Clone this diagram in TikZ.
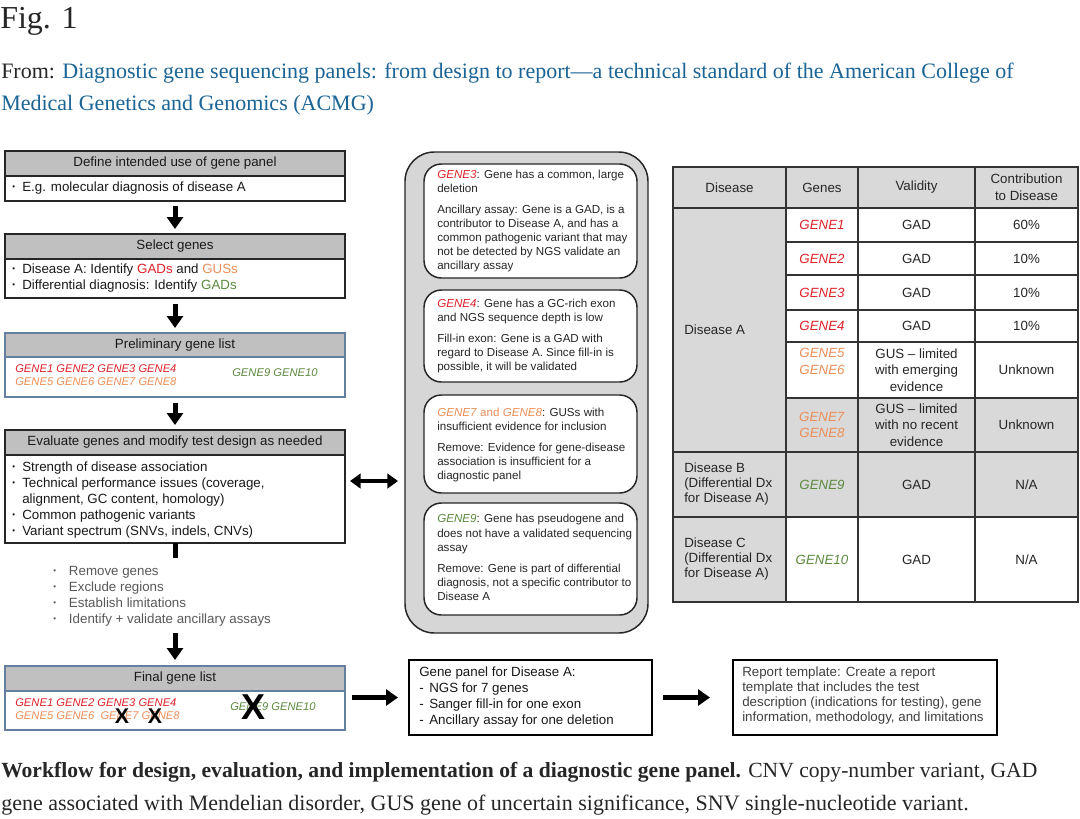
\documentclass[tikz,border=0pt]{standalone}
\usepackage{fontspec}
\setmainfont{Liberation Sans}
\newfontfamily\seriffont{Liberation Serif}
\usetikzlibrary{arrows.meta}
\definecolor{gred}{RGB}{222,35,42}
\definecolor{gorange}{RGB}{236,142,88}
\definecolor{ggreen}{RGB}{92,138,62}
\definecolor{steel}{RGB}{100,128,158}
\definecolor{linkblue}{RGB}{26,100,150}
\definecolor{hdrgray}{RGB}{192,192,192}
\definecolor{tgray}{RGB}{217,217,217}
\definecolor{pgray}{RGB}{214,214,214}
\newcommand\pxu{0.75pt}
\newcommand\GeneR[1]{\textcolor{gred}{\textit{#1}}}
\newcommand\GeneO[1]{\textcolor{gorange}{\textit{#1}}}
\newcommand\GeneG[1]{\textcolor{ggreen}{\textit{#1}}}
\newcommand\bul[1][7.5pt]{\makebox[#1][l]{\raisebox{1.6pt}{\fontsize{6}{6}\selectfont •}}}
\newcommand\dashi{\makebox[7.5pt][l]{-}}
\newcommand\tcell[7]{\node[cell, fill=#6, minimum width=#4*\pxu, minimum height=#5*\pxu] (#1) at (#2,#3) {#7};}
\begin{document}
\begin{tikzpicture}[x=\pxu, y=-\pxu,
  base/.style={anchor=north west, inner sep=0pt, outer sep=0pt},
  hdr/.style={base, fill=hdrgray, draw=black!85, line width=0.8pt, minimum width=340*\pxu, minimum height=25*\pxu, font=\fontsize{10}{12}\selectfont, text=black!90},
  bodyb/.style={base, fill=white, draw=black!85, line width=0.8pt, minimum width=340*\pxu},
  bluebd/.style={draw=steel, line width=1.1pt},
  txt/.style={anchor=west, inner sep=0pt, align=left, font=\fontsize{10}{12}\selectfont, text=black!90},
  gtxt/.style={anchor=west, inner sep=0pt, align=left, font=\fontsize{8.4}{9.6}\selectfont},
  mtxt/.style={anchor=west, inner sep=0pt, align=left, font=\fontsize{8.7}{10.6}\selectfont, text=black!85},
  bigarrow/.style={line width=3.75pt, -{Triangle[width=12pt,length=9pt]}},
  panel/.style={base, fill=pgray, draw=black!85, line width=1.1pt, rounded corners=22pt},
  ibox/.style={base, fill=white, draw=black!85, line width=1.1pt, rounded corners=13pt, minimum width=213*\pxu},
  cell/.style={base, draw=black!80, line width=1pt, align=center, font=\fontsize{10}{12.5}\selectfont, text=black!85},
  tbox/.style={base, draw=black, line width=2.2pt},
  xmark/.style={inner sep=0pt, text=black},
  captxt/.style={anchor=base west, inner sep=0pt, font=\seriffont\fontsize{16.5}{18}\selectfont, text=black!85},
]
\fill[white] (0,0) rectangle (1080,818);
\useasboundingbox (0,0) rectangle (1080,818);

% ---------- title ----------
\node[anchor=base west, inner sep=0pt, font=\seriffont\fontsize{24}{24}\selectfont, text=black!85] (fig) at (0,28) {Fig. 1};
\node[captxt] (from1) at (1,78) {From: \textcolor{linkblue}{Diagnostic gene sequencing panels: from design to report—a technical standard of the American College of}};
\node[captxt] (from2) at (1,110) {\textcolor{linkblue}{Medical Genetics and Genomics (ACMG)}};

% ---------- left column ----------
\node[hdr] (d1h) at (5,151) {Define intended use of gene panel};
\node[bodyb, minimum height=25*\pxu] (d1b) at (5,176) {};
\node[txt] (d1t) at (12,188) {\bul E.g. molecular diagnosis of disease A};

\node[hdr] (d2h) at (5,234) {Select genes};
\node[bodyb, minimum height=39*\pxu] (d2b) at (5,259) {};
\node[txt] (d2t) at (12,278) {\bul Disease A: Identify \textcolor{gred}{GADs} and \textcolor{gorange}{GUSs}\\\bul Differential diagnosis: Identify \textcolor{ggreen}{GADs}};

\node[hdr, bluebd, minimum height=24*\pxu] (d3h) at (5,333) {Preliminary gene list};
\node[bodyb, bluebd, minimum height=40*\pxu] (d3b) at (5,357) {};
\node[gtxt] (d3t) at (15,375.5) {\GeneR{GENE1 GENE2 GENE3 GENE4}\\\GeneO{GENE5 GENE6 GENE7 GENE8}};
\node[gtxt] (d3g) at (232,373) {\GeneG{GENE9 GENE10}};

\node[hdr] (d4h) at (5,430) {Evaluate genes and modify test design as needed};
\node[bodyb, minimum height=88*\pxu] (d4b) at (5,455) {};
\node[txt] (d4t) at (12,500.5) {\bul Strength of disease association\\
\bul Technical performance issues (coverage,\\
\hspace*{7.5pt}alignment, GC content, homology)\\
\bul Common pathogenic variants\\
\bul Variant spectrum (SNVs, indels, CNVs)};

\coordinate (barend) at (175,558);
\draw[line width=3.75pt] (d4b.south) -- (barend);
\node[txt, text=black!65] (gl) at (53,596) {\bul[9pt] Remove genes\\\bul[9pt] Exclude regions\\\bul[9pt] Establish limitations\\\bul[9pt] Identify + validate ancillary assays};
\coordinate (a4s) at (175,633);

\node[hdr, bluebd, minimum height=25*\pxu] (d5h) at (5,666) {Final gene list};
\node[bodyb, bluebd, minimum height=39*\pxu] (d5b) at (5,691) {};
\node[gtxt] (d5t) at (15,709.5) {\GeneR{GENE1 GENE2 GENE3 GENE4}\\\GeneO{GENE5 GENE6\ \ GENE7 GENE8}};
\node[gtxt] (d5g) at (230,707) {\GeneG{GENE9 GENE10}};
\node[xmark, font=\bfseries\fontsize{16}{16}\selectfont] (x7) at (122,716) {X};
\node[xmark, font=\bfseries\fontsize{16}{16}\selectfont] (x8) at (155,716) {X};
\node[xmark, font=\bfseries\fontsize{27}{27}\selectfont] (x9) at (254,707) {X};

\draw[bigarrow, shorten <=3.75pt, shorten >=3.75pt] (d1b.south) -- (d2h.north);
\draw[bigarrow, shorten <=4.5pt, shorten >=3.75pt] (d2b.south) -- (d3h.north);
\draw[bigarrow, shorten <=4.5pt, shorten >=3.75pt] (d3b.south) -- (d4h.north);
\draw[bigarrow, shorten >=4.5pt] (a4s) -- (d5h.north);

% ---------- middle panel ----------
\node[panel, minimum width=243*\pxu, minimum height=481*\pxu] (mid) at (405,152) {};
\node[ibox, minimum height=114*\pxu] (ma) at (424,164) {};
\node[mtxt] (mat) at (437,221) {\GeneR{GENE3}: Gene has a common, large\\deletion\\[5pt]Ancillary assay: Gene is a GAD, is a\\contributor to Disease A, and has a\\common pathogenic variant that may\\not be detected by NGS validate an\\ancillary assay};
\node[ibox, minimum height=92*\pxu] (mb) at (424,290) {};
\node[mtxt] (mbt) at (437,336) {\GeneR{GENE4}: Gene has a GC-rich exon\\and NGS sequence depth is low\\[5pt]Fill-in exon: Gene is a GAD with\\regard to Disease A. Since fill-in is\\possible, it will be validated};
\node[ibox, minimum height=98*\pxu] (mc) at (424,395) {};
\node[mtxt] (mct) at (437,445) {\GeneO{GENE7} \textcolor{gorange}{and} \GeneO{GENE8}: GUSs with\\insufficient evidence for inclusion\\[5pt]Remove: Evidence for gene-disease\\association is insufficient for a\\diagnostic panel};
\node[ibox, minimum height=112*\pxu] (md) at (424,503) {};
\node[mtxt] (mdt) at (437,557.5) {\GeneG{GENE9}: Gene has pseudogene and\\does not have a validated sequencing\\assay\\[5pt]Remove: Gene is part of differential\\diagnosis, not a specific contributor to\\Disease A};

\coordinate (dy) at (0,481);
\draw[line width=3pt, {Triangle[width=11pt,length=8pt]}-{Triangle[width=11pt,length=8pt]}, shorten <=3.75pt, shorten >=5.25pt] (d4b.east |- dy) -- (mid.west |- dy);

% ---------- table ----------
\tcell{h1}{673}{167}{113}{41}{tgray}{Disease}
\tcell{h2}{786}{167}{72}{41}{tgray}{Genes}
\tcell{h3}{858}{167}{117}{41}{tgray}{Validity}
\tcell{h4}{975}{167}{103}{41}{tgray}{Contribution\\to Disease}
\tcell{dA}{673}{208}{113}{244}{tgray}{}
\tcell{g1}{786}{208}{72}{34}{white}{\GeneR{GENE1}}
\tcell{v1}{858}{208}{117}{34}{white}{GAD}
\tcell{c1}{975}{208}{103}{34}{white}{60\%}
\tcell{g2}{786}{242}{72}{33}{white}{\GeneR{GENE2}}
\tcell{v2}{858}{242}{117}{33}{white}{GAD}
\tcell{c2}{975}{242}{103}{33}{white}{10\%}
\tcell{g3}{786}{275}{72}{35}{white}{\GeneR{GENE3}}
\tcell{v3}{858}{275}{117}{35}{white}{GAD}
\tcell{c3}{975}{275}{103}{35}{white}{10\%}
\tcell{g4}{786}{310}{72}{32}{white}{\GeneR{GENE4}}
\tcell{v4}{858}{310}{117}{32}{white}{GAD}
\tcell{c4}{975}{310}{103}{32}{white}{10\%}
\tcell{g56}{786}{342}{72}{56}{white}{\GeneO{GENE5}\\\GeneO{GENE6}\\\mbox{}}
\tcell{v56}{858}{342}{117}{56}{white}{GUS – limited\\with emerging\\evidence}
\tcell{c56}{975}{342}{103}{56}{white}{Unknown}
\tcell{g78}{786}{398}{72}{54}{tgray}{\GeneO{GENE7}\\\GeneO{GENE8}}
\tcell{v78}{858}{398}{117}{54}{tgray}{GUS – limited\\with no recent\\evidence}
\tcell{c78}{975}{398}{103}{54}{tgray}{Unknown}
\tcell{dB}{673}{452}{113}{65}{tgray}{}
\tcell{g9}{786}{452}{72}{65}{tgray}{\GeneG{GENE9}}
\tcell{v9}{858}{452}{117}{65}{tgray}{GAD}
\tcell{c9}{975}{452}{103}{65}{tgray}{N/A}
\tcell{dC}{673}{517}{113}{85}{tgray}{}
\tcell{g10}{786}{517}{72}{85}{white}{\GeneG{GENE10}}
\tcell{v10}{858}{517}{117}{85}{white}{GAD}
\tcell{c10}{975}{517}{103}{85}{white}{N/A}
\node[txt, font=\fontsize{10}{12}\selectfont, text=black!85] (dAt) at (684,330) {Disease A};
\node[txt, font=\fontsize{10}{11.5}\selectfont, text=black!85] (dBt) at (684,484) {Disease B\\(Differential Dx\\for Disease A)};
\node[txt, font=\fontsize{10}{11.5}\selectfont, text=black!85] (dCt) at (684,559) {Disease C\\(Differential Dx\\for Disease A)};

% ---------- bottom row ----------
\node[tbox, minimum width=243*\pxu, minimum height=75*\pxu] (gp) at (409,660) {};
\node[txt] (gpt) at (419,697.5) {Gene panel for Disease A:\\\dashi NGS for 7 genes\\\dashi Sanger fill-in for one exon\\\dashi Ancillary assay for one deletion};
\node[tbox, minimum width=264*\pxu, minimum height=75*\pxu] (rt) at (733,660) {};
\node[txt, font=\fontsize{10}{11.25}\selectfont, text=black!75] (rtt) at (742,695.5) {Report template: Create a report\\template that includes the test\\description (indications for testing), gene\\information, methodology, and limitations};

\draw[bigarrow, shorten <=5.25pt, shorten >=8.25pt] (d5b.east |- gp.west) -- (gp.west);
\draw[bigarrow, shorten <=8.25pt, shorten >=17.25pt] (gp.east) -- (rt.west);

% ---------- caption ----------
\node[captxt, font=\seriffont\fontsize{16.2}{18}\selectfont] (cap1) at (1,777) {\textbf{Workflow for design, evaluation, and implementation of a diagnostic gene panel.} CNV copy-number variant, GAD};
\node[captxt] (cap2) at (1,810) {gene associated with Mendelian disorder, GUS gene of uncertain significance, SNV single-nucleotide variant.};
\end{tikzpicture}
\end{document}
